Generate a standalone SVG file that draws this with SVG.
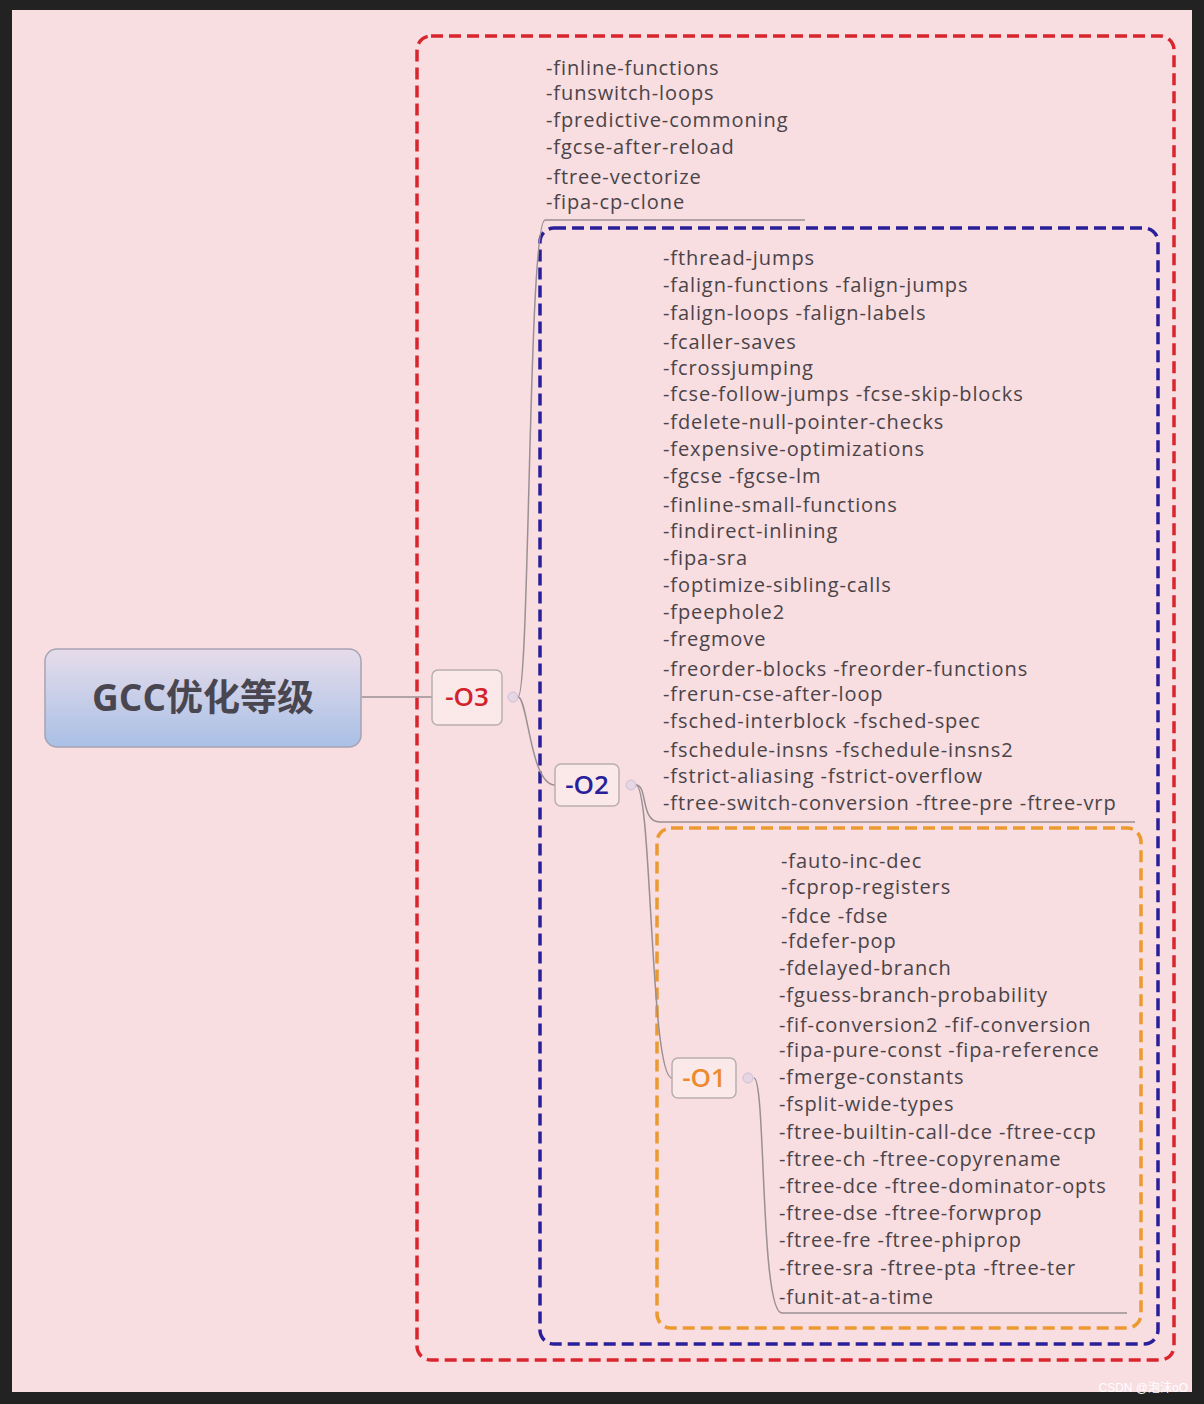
<svg xmlns="http://www.w3.org/2000/svg" width="1204" height="1404" viewBox="0 0 1204 1404">
<defs>
<linearGradient id="g" x1="0" y1="0" x2="0" y2="1"><stop offset="0" stop-color="#e6dcea"/><stop offset="1" stop-color="#a9c0e6"/></linearGradient>
</defs>
<style>
.t{font-family:"Open Sans","Liberation Sans",sans-serif;font-size:20px;letter-spacing:0.9px;fill:#4a4448;white-space:pre}
.c{fill:none;stroke:#9a8f92;stroke-width:1.5}
.b{fill:#fbe9ea;stroke:#b9aeb0;stroke-width:1.5}
</style>
<rect x="0" y="0" width="1204" height="1404" fill="#222"/>
<rect x="12" y="10" width="1180" height="1382" fill="#f8dde1"/>
<rect x="417" y="36" width="757" height="1324" rx="14" fill="none" stroke="#d9262e" stroke-width="3.5" stroke-dasharray="12,6"/>
<rect x="540" y="228" width="618" height="1116" rx="14" fill="none" stroke="#2a1f9a" stroke-width="3.5" stroke-dasharray="12,6"/>
<rect x="657" y="828" width="484" height="500" rx="14" fill="none" stroke="#ec9a30" stroke-width="3.5" stroke-dasharray="12,6"/>
<g id="connectors">
<path class="c" d="M362 697 H432"/>
<path class="c" d="M518 697 C530 697 528 222 545 220 H805"/>
<path class="c" d="M518 697 C528 697 530 785 555 785"/>
<path class="c" d="M636 785 C648 785 640 822 660 822 H1135"/>
<path class="c" d="M636 785 C652 785 650 1078 672 1078"/>
<path class="c" d="M754 1078 C766 1078 760 1313 782 1313 H1127"/>
</g>
<g id="root">
<rect x="45" y="649" width="316" height="98" rx="12" fill="url(#g)" stroke="#a6a3b3" stroke-width="1.5"/>
<text x="203" y="711" text-anchor="middle" font-family="'Open Sans','Noto Sans CJK SC',sans-serif" font-size="37" font-weight="bold" fill="#4a4650">GCC优化等级</text>
</g>
<g id="o3">
<rect class="b" x="432" y="670" width="70" height="55" rx="6"/>
<text x="467" y="706" text-anchor="middle" font-family="'Open Sans',sans-serif" font-size="26" font-weight="600" fill="#d3222b">-O3</text>
<circle cx="513" cy="697" r="5" fill="#e6d6e4" stroke="#cdbfd4"/>
<g class="t">
<text x="546" y="75">-finline-functions</text>
<text x="546" y="100">-funswitch-loops</text>
<text x="546" y="127">-fpredictive-commoning</text>
<text x="546" y="154">-fgcse-after-reload</text>
<text x="546" y="184">-ftree-vectorize</text>
<text x="546" y="209">-fipa-cp-clone</text>
</g>
</g>
<g id="o2">
<rect class="b" x="555" y="764" width="64" height="42" rx="6"/>
<text x="587" y="794" text-anchor="middle" font-family="'Open Sans',sans-serif" font-size="26" font-weight="600" fill="#2a1f9a">-O2</text>
<circle cx="631" cy="785" r="5" fill="#e6d6e4" stroke="#cdbfd4"/>
<g class="t">
<text x="663" y="265">-fthread-jumps</text>
<text x="663" y="292">-falign-functions  -falign-jumps</text>
<text x="663" y="320">-falign-loops  -falign-labels</text>
<text x="663" y="349">-fcaller-saves</text>
<text x="663" y="375">-fcrossjumping</text>
<text x="663" y="401">-fcse-follow-jumps  -fcse-skip-blocks</text>
<text x="663" y="429">-fdelete-null-pointer-checks</text>
<text x="663" y="456">-fexpensive-optimizations</text>
<text x="663" y="483"> -fgcse  -fgcse-lm</text>
<text x="663" y="512">-finline-small-functions</text>
<text x="663" y="538">-findirect-inlining</text>
<text x="663" y="565"> -fipa-sra</text>
<text x="663" y="592">-foptimize-sibling-calls</text>
<text x="663" y="619">-fpeephole2</text>
<text x="663" y="646">-fregmove</text>
<text x="663" y="676">-freorder-blocks  -freorder-functions</text>
<text x="663" y="701"> -frerun-cse-after-loop</text>
<text x="663" y="728">-fsched-interblock  -fsched-spec</text>
<text x="663" y="757">-fschedule-insns  -fschedule-insns2</text>
<text x="663" y="783">-fstrict-aliasing -fstrict-overflow</text>
<text x="663" y="810">-ftree-switch-conversion -ftree-pre -ftree-vrp</text>
</g>
</g>
<g id="o1">
<rect class="b" x="672" y="1058" width="64" height="40" rx="6"/>
<text x="704" y="1087" text-anchor="middle" font-family="'Open Sans',sans-serif" font-size="26" font-weight="600" fill="#ec8a30">-O1</text>
<circle cx="748" cy="1078" r="5" fill="#e6d6e4" stroke="#cdbfd4"/>
<g class="t">
<text x="781" y="868">-fauto-inc-dec</text>
<text x="781" y="894">-fcprop-registers</text>
<text x="781" y="923">-fdce -fdse</text>
<text x="781" y="948">-fdefer-pop</text>
<text x="779" y="975">-fdelayed-branch</text>
<text x="779" y="1002">-fguess-branch-probability</text>
<text x="779" y="1032">-fif-conversion2 -fif-conversion</text>
<text x="779" y="1057">-fipa-pure-const -fipa-reference</text>
<text x="779" y="1084">-fmerge-constants</text>
<text x="779" y="1111">-fsplit-wide-types</text>
<text x="779" y="1139">-ftree-builtin-call-dce -ftree-ccp</text>
<text x="779" y="1166">-ftree-ch -ftree-copyrename</text>
<text x="779" y="1193">-ftree-dce -ftree-dominator-opts</text>
<text x="779" y="1220">-ftree-dse -ftree-forwprop</text>
<text x="779" y="1247">-ftree-fre -ftree-phiprop</text>
<text x="779" y="1275">-ftree-sra -ftree-pta -ftree-ter</text>
<text x="779" y="1304">-funit-at-a-time</text>
</g>
</g>
<text x="1188" y="1392" text-anchor="end" font-family="'Liberation Sans','Noto Sans CJK SC',sans-serif" font-size="12" fill="#fff">CSDN @泡沫oO</text>
</svg>
